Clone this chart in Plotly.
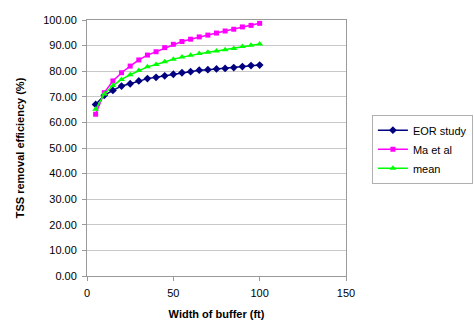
import plotly.graph_objects as go

# Buffer widths (ft)
buffer_width = [5, 10, 15, 20, 25, 30, 35, 40, 45, 50,
                55, 60, 65, 70, 75, 80, 85, 90, 95, 100]

# TSS removal efficiency (%)
eor_study = [67.0, 70.6, 72.5, 74.2, 75.1, 76.2, 77.1, 77.6, 78.2, 78.8,
             79.4, 79.8, 80.4, 80.6, 80.9, 81.1, 81.4, 81.8, 82.2, 82.4]
ma_et_al = [63.2, 71.6, 76.2, 79.4, 82.0, 84.4, 86.3, 87.6, 89.2, 90.5,
            91.6, 92.5, 93.4, 94.1, 94.9, 95.7, 96.4, 97.3, 97.9, 98.7]
mean_eff = [65.1, 71.1, 74.4, 76.8, 78.6, 80.3, 81.7, 82.6, 83.7, 84.7,
            85.5, 86.2, 86.9, 87.4, 87.9, 88.4, 88.9, 89.6, 90.1, 90.6]

x_ticks = [0, 50, 100, 150]
y_ticks = [0, 10, 20, 30, 40, 50, 60, 70, 80, 90, 100]

font_family = "Liberation Sans, Arial, sans-serif"

fig = go.Figure()
fig.add_trace(go.Scatter(
    x=buffer_width, y=eor_study, name="EOR study", mode="lines+markers",
    line=dict(color="#000080", width=1.5),
    marker=dict(symbol="diamond", size=6, color="#000080"),
))
fig.add_trace(go.Scatter(
    x=buffer_width, y=ma_et_al, name="Ma et al", mode="lines+markers",
    line=dict(color="#FF00FF", width=1.5),
    marker=dict(symbol="square", size=5, color="#FF00FF"),
))
fig.add_trace(go.Scatter(
    x=buffer_width, y=mean_eff, name="mean", mode="lines+markers",
    line=dict(color="#00FF00", width=1.5),
    marker=dict(symbol="triangle-up", size=6, color="#00FF00"),
))

fig.update_layout(
    width=474, height=335,
    margin=dict(l=87, r=128, t=20, b=59, autoexpand=False),
    paper_bgcolor="white", plot_bgcolor="white",
    font=dict(family=font_family, size=11, color="black"),
    showlegend=True,
    legend=dict(
        x=1.10, y=0.63, xanchor="left", yanchor="top",
        bordercolor="#b0b0b0", borderwidth=1, bgcolor="white",
        font=dict(family=font_family, size=11, color="black"),
        itemwidth=30, tracegroupgap=0,
    ),
)

fig.update_xaxes(
    range=[0, 150], tickvals=x_ticks, ticktext=[str(v) for v in x_ticks],
    showgrid=False, zeroline=False,
    showline=True, linecolor="#9a9a9a", linewidth=1, mirror=True,
    ticks="outside", ticklen=4, tickcolor="#9a9a9a",
    tickfont=dict(size=11), ticklabelstandoff=3,
    title=dict(text="<b>Width of buffer (ft)</b>", font=dict(size=11), standoff=12),
)
fig.update_yaxes(
    range=[0, 100], tickvals=y_ticks, ticktext=[f"{v:.2f}" for v in y_ticks],
    showgrid=True, gridcolor="#c8c8c8", gridwidth=1, zeroline=False,
    showline=True, linecolor="#9a9a9a", linewidth=1, mirror=True,
    ticks="outside", ticklen=4, tickcolor="#9a9a9a",
    tickfont=dict(size=11), ticklabelstandoff=3,
    title=dict(text="<b>TSS removal efficiency (%)</b>", font=dict(size=11), standoff=16),
)

fig.write_html("out.html")
